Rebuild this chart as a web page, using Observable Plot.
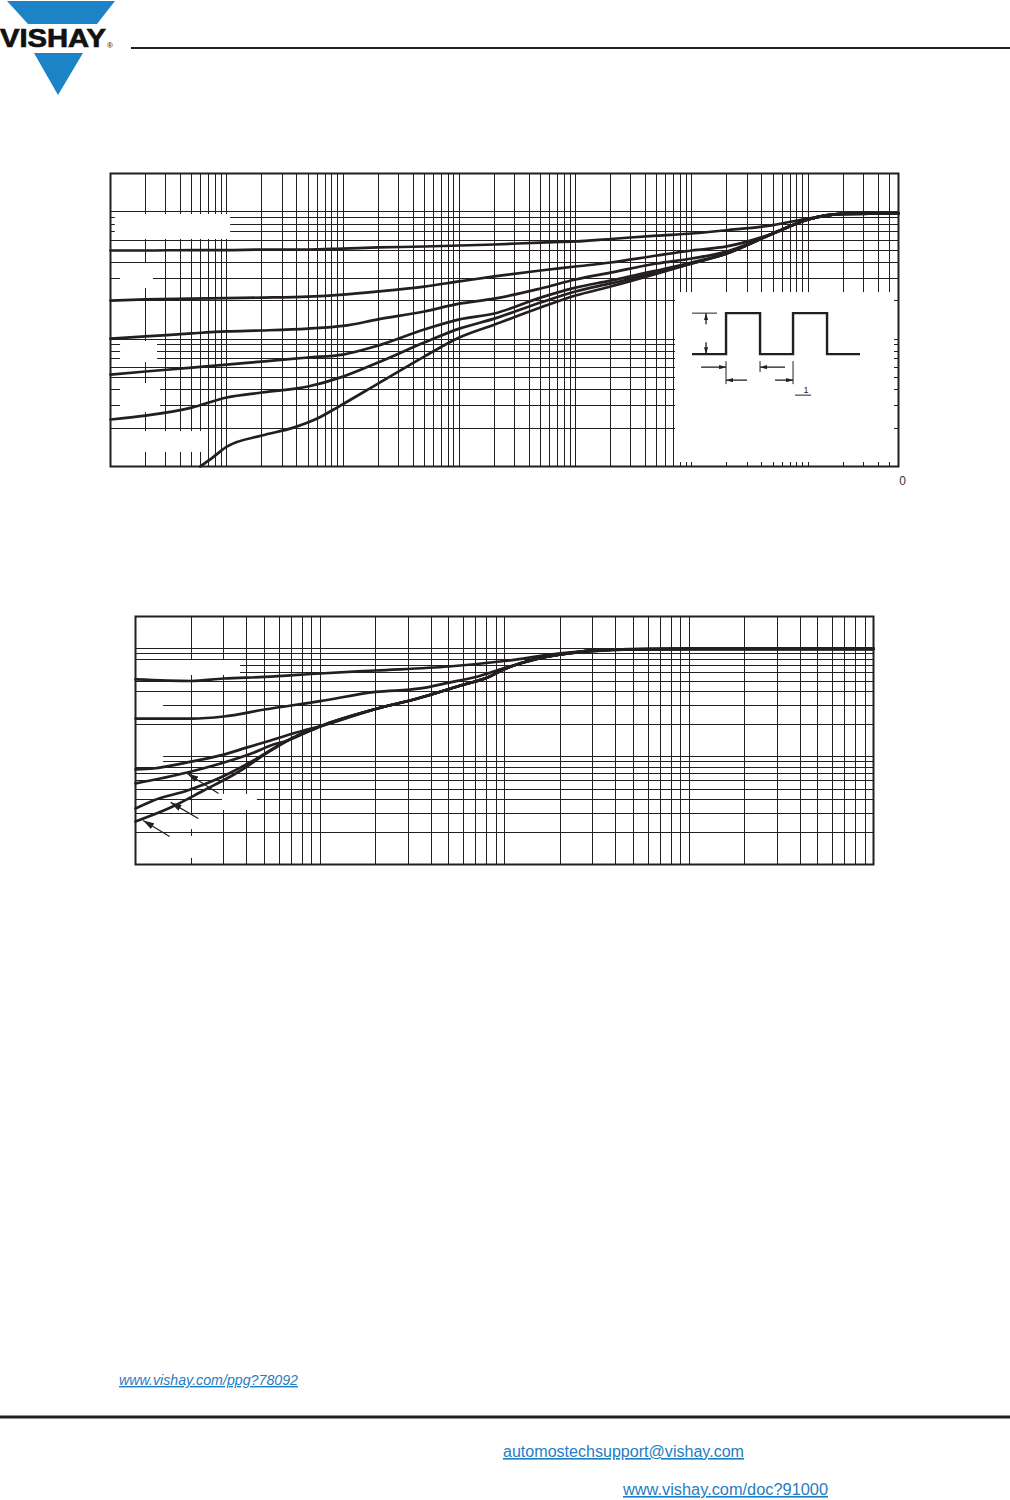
<!DOCTYPE html>
<html><head><meta charset="utf-8">
<script src="https://cdn.jsdelivr.net/npm/d3@7"></script>
<script src="https://cdn.jsdelivr.net/npm/@observablehq/plot@0.6"></script>
<style>
body{margin:0;background:#fff;}
#page{position:relative;width:1010px;height:1500px;overflow:hidden;background:#fff;font-family:"Liberation Sans",Arial,sans-serif;}
#page > svg{position:absolute;}
</style></head><body><div id="page"></div>
<script>
// ---------- Chart 1: transient thermal impedance, junction-to-ambient ----------
const t1 = [1e-4, 2e-4, 5e-4, 1e-3, 2e-3, 5e-3, 1e-2, 2e-2, 5e-2, 0.1, 0.2, 0.5, 1, 2, 5, 10, 20, 50, 100, 200, 600];
const z1_d05  = [0.497, 0.497, 0.501, 0.501, 0.506, 0.506, 0.515, 0.525, 0.534, 0.544, 0.554, 0.574, 0.585, 0.612, 0.650, 0.676, 0.717, 0.787, 0.887, 0.962, 0.970];
const z1_d02  = [0.201, 0.205, 0.208, 0.210, 0.212, 0.216, 0.224, 0.237, 0.259, 0.284, 0.311, 0.346, 0.372, 0.400, 0.454, 0.497, 0.535, 0.676, 0.871, 0.962, 0.970];
const z1_d01  = [0.101, 0.105, 0.111, 0.115, 0.117, 0.121, 0.127, 0.143, 0.165, 0.190, 0.208, 0.250, 0.294, 0.333, 0.393, 0.430, 0.488, 0.676, 0.871, 0.962, 0.970];
const z1_d005 = [0.0527, 0.0557, 0.0598, 0.0632, 0.0667, 0.0718, 0.0757, 0.089, 0.119, 0.143, 0.159, 0.212, 0.254, 0.288, 0.346, 0.400, 0.471, 0.676, 0.871, 0.962, 0.970];
const z1_d002 = [0.0234, 0.0251, 0.0290, 0.0348, 0.0381, 0.0425, 0.0508, 0.0655, 0.094, 0.121, 0.145, 0.194, 0.237, 0.274, 0.333, 0.393, 0.471, 0.676, 0.871, 0.962, 0.970];
const t1_sp = [5.9e-4, 7.5e-4, 1e-3, 2e-3, 3.75e-3, 6e-3, 9.5e-3, 2e-2, 5e-2, 0.1, 0.2, 0.5, 1, 2, 5, 10, 20, 50, 100, 200, 600];
const z1_sp = [0.0100, 0.0117, 0.0143, 0.0175, 0.0202, 0.0238, 0.0301, 0.0448, 0.0730, 0.103, 0.130, 0.177, 0.220, 0.259, 0.327, 0.393, 0.471, 0.676, 0.871, 0.962, 0.970];
const x1Domain = [1e-4, 600];
const yDomain = [0.01, 2];
const decades1 = [1e-4, 1e-3, 1e-2, 1e-1, 1, 10, 100];
const multipliers = [1, 2, 3, 4, 5, 6, 7, 8, 9];
const decadesY = [0.01, 0.1, 1];
const axisLabels1 = ["0"];
// label masks (where the curve labels sit), in data units: [t0, t1, z0, z1]
const labelBoxes1 = [
  [1.10e-4, 1.08e-3, 0.607, 0.953],
  [1.22e-4, 2.34e-4, 0.250, 0.393],
  [1.22e-4, 2.54e-4, 0.0655, 0.0958],
  [1.22e-4, 2.69e-4, 0.0265, 0.0448],
  [1.04e-4, 6.56e-4, 0.0129, 0.0188]
];
const insetT = [7.25, 600];
const insetZ = [0.01, 0.232];

// ---------- Chart 2: transient thermal impedance, junction-to-case ----------
const x2Domain = [1e-4, 1];
const decades2 = [1e-4, 1e-3, 1e-2, 1e-1];
const t2_d05 = [1e-4, 2e-4, 3e-4, 5e-4, 1e-3, 2e-3, 5e-3, 1e-2, 2e-2, 5e-2, 0.1, 1];
const z2_d05 = [0.521, 0.504, 0.532, 0.550, 0.592, 0.631, 0.687, 0.773, 0.908, 0.989, 1.0, 1.0];
const t2_d02 = [1e-4, 2e-4, 3e-4, 5e-4, 1e-3, 2e-3, 3.5e-3, 5e-3, 7e-3, 1e-2, 2e-2, 5e-2, 0.1, 1];
const z2_d02 = [0.226, 0.226, 0.236, 0.274, 0.328, 0.399, 0.430, 0.487, 0.549, 0.665, 0.888, 0.989, 1.0, 1.0];
const t2_tail = [1e-3, 2.05e-3, 3.38e-3, 5.78e-3, 8.09e-3, 9.9e-3, 0.0144, 0.0201, 0.0293, 0.0425, 0.1, 1];
const z2_tail = [0.191, 0.280, 0.347, 0.458, 0.543, 0.645, 0.798, 0.888, 0.966, 0.989, 1.0, 1.0];
const t2_d01 = [1e-4, 1.25e-4, 1.91e-4, 2.89e-4, 4.04e-4, 5.40e-4, 8.14e-4];
const z2_d01 = [0.0762, 0.0778, 0.0885, 0.1028, 0.122, 0.1416, 0.175];
const t2_d005 = [1e-4, 1.91e-4, 2.89e-4, 4.36e-4, 5.40e-4, 6.67e-4, 8.14e-4];
const z2_d005 = [0.0565, 0.0714, 0.0865, 0.109, 0.127, 0.1416, 0.164];
const t2_d002 = [1e-4, 1.25e-4, 1.91e-4, 2.89e-4, 4.36e-4, 6.67e-4, 8.14e-4];
const z2_d002 = [0.0331, 0.0393, 0.0486, 0.0641, 0.0923, 0.1416, 0.164];
const t2_sp = [1e-4, 1.55e-4, 2.34e-4, 3.57e-4, 5.40e-4, 8.14e-4];
const z2_sp = [0.0251, 0.0338, 0.0486, 0.0714, 0.114, 0.168];
// pointer arrows (tail -> head)
const arrowTailT = [2.82e-4, 2.19e-4, 1.53e-4];
const arrowTailZ = [0.0456, 0.0267, 0.0182];
const arrowHeadT = [1.91e-4, 1.55e-4, 1.10e-4];
const arrowHeadZ = [0.070, 0.0377, 0.0256];
const labelBoxes2 = [
  [1.01e-4, 3.71e-4, 0.567, 0.781],
  [1.01e-4, 1.42e-4, 0.257, 0.355],
  [1.01e-4, 1.42e-4, 0.0847, 0.109],
  [2.96e-4, 4.58e-4, 0.0317, 0.0447],
  [1.82e-4, 2.82e-4, 0.0211, 0.0285],
  [1.59e-4, 2.82e-4, 0.0114, 0.0182]
];

// ---------- page text ----------
const brandName = "VISHAY";
const footerLinks = ["www.vishay.com/ppg?78092", "automostechsupport@vishay.com", "www.vishay.com/doc?91000"];
const insetText = ["1"];

const ink = "#231f20";
const blue = "#1c84c6";
const linkBlue = "#1f7dc2";

function grid(decs, max) {
  return decs.flatMap(d => multipliers.map(m => +(d * m).toPrecision(3))).filter(v => v <= max);
}
function rows(name, ts, zs) { return ts.map((t, i) => ({s: name, t, z: zs[i]})); }
function boxRows(b) { return b.map(([a, c, d, e]) => ({t0: a, t1: c, z0: d, z1: e})); }

const page = d3.select("#page");

// decorations: logo, rules, footer
const deco = page.append("svg").attr("width", 1010).attr("height", 1500).style("left", "0px").style("top", "0px");
deco.append("polygon").attr("points", "7,1 115,1 97,24 28,24").attr("fill", blue);
deco.append("polygon").attr("points", "34,53 83,53 58,95").attr("fill", blue);
deco.append("text").attr("x", 0).attr("y", 47).attr("font-family", "Liberation Sans, Arial, sans-serif")
  .attr("font-weight", 700).attr("font-size", 26).attr("textLength", 106).attr("lengthAdjust", "spacingAndGlyphs")
  .attr("fill", "#111").attr("stroke", "#111").attr("stroke-width", 0.7).text(brandName);
deco.append("text").attr("x", 107).attr("y", 48).attr("font-size", 8).attr("font-family", "Liberation Sans, Arial").attr("fill", "#111").text("®");
deco.append("line").attr("x1", 131).attr("x2", 1010).attr("y1", 48).attr("y2", 48).attr("stroke", ink).attr("stroke-width", 2);
deco.append("line").attr("x1", 0).attr("x2", 1010).attr("y1", 1417).attr("y2", 1417).attr("stroke", ink).attr("stroke-width", 3);
const footPos = [[119, 1385, 14, 179, "italic"], [503, 1457, 16, 241, "normal"], [623, 1495, 16, 205, "normal"]];
footerLinks.forEach((s, i) => {
  const [x, y, fs, w, st] = footPos[i];
  deco.append("text").attr("x", x).attr("y", y).attr("font-size", fs).attr("font-style", st)
    .attr("font-family", "Liberation Sans, Arial, sans-serif").attr("fill", linkBlue)
    .attr("textLength", w).attr("lengthAdjust", "spacingAndGlyphs")
    .style("text-decoration", "underline").text(s);
});

function addMarker(svg, id, w, h) {
  let defs = svg.select("defs");
  if (defs.empty()) defs = svg.insert("defs", ":first-child");
  defs.append("marker").attr("id", id).attr("viewBox", "0 0 10 6").attr("refX", 10).attr("refY", 3)
    .attr("markerWidth", w).attr("markerHeight", h).attr("markerUnits", "userSpaceOnUse").attr("orient", "auto")
    .append("path").attr("d", "M0,0L10,3L0,6Z").attr("fill", ink);
}

// ---------- chart 1 ----------
const xGrid1 = grid(decades1, 600);
const yGrid1 = grid(decadesY, 2);
const data1 = [
  ...rows("0.5", t1, z1_d05), ...rows("0.2", t1, z1_d02), ...rows("0.1", t1, z1_d01),
  ...rows("0.05", t1, z1_d005), ...rows("0.02", t1, z1_d002), ...rows("single", t1_sp, z1_sp)
];
const tickLenY = 1.08, tickLenX = 1.083;
const chart1 = Plot.plot({
  width: 830, height: 335,
  marginLeft: 20, marginRight: 22, marginTop: 13, marginBottom: 29,
  x: {type: "log", domain: x1Domain, axis: null},
  y: {type: "log", domain: yDomain, axis: null},
  style: {fontFamily: "Liberation Sans, Arial, sans-serif", background: "transparent"},
  marks: [
    Plot.ruleX(xGrid1, {stroke: ink, strokeWidth: 1, shapeRendering: "crispEdges"}),
    Plot.ruleY(yGrid1, {stroke: ink, strokeWidth: 1, shapeRendering: "crispEdges"}),
    Plot.rect(boxRows(labelBoxes1), {x1: "t0", x2: "t1", y1: "z0", y2: "z1", fill: "white"}),
    Plot.rect([0], {x1: insetT[0], x2: insetT[1], y1: insetZ[0], y2: insetZ[1], fill: "white"}),
    Plot.ruleX(xGrid1.filter(v => v > insetT[0] && v < insetT[1]), {y1: insetZ[0], y2: insetZ[0] * tickLenY, stroke: ink, strokeWidth: 1, shapeRendering: "crispEdges"}),
    Plot.ruleY(yGrid1.filter(v => v > insetZ[0] && v < insetZ[1]), {x1: insetT[1] / tickLenX, x2: insetT[1], stroke: ink, strokeWidth: 1, shapeRendering: "crispEdges"}),
    Plot.line(data1, {x: "t", y: "z", z: "s", stroke: ink, strokeWidth: 2.7, curve: "monotone-x"}),
    Plot.frame({stroke: ink, strokeWidth: 2}),
    Plot.text(axisLabels1, {x: x1Domain[1], y: yDomain[0], text: d => d, dx: 4, dy: 15, fontSize: 12, fill: "#333"})
  ]
});
chart1.style.left = "90px"; chart1.style.top = "160px"; chart1.style.position = "absolute";
document.getElementById("page").appendChild(chart1);

// inset pulse diagram (schematic, positioned from the inset corner)
{
  const svg = d3.select(chart1);
  addMarker(svg, "ahs", 7, 4.5);
  const ox = chart1.scale("x").apply(insetT[0]);
  const oy = chart1.scale("y").apply(insetZ[1]);
  const g = svg.append("g").attr("transform", `translate(${ox},${oy})`);
  const waveX = [17, 51, 51, 85, 85, 118, 118, 152, 152, 185];
  const waveY = [62, 62, 21, 21, 62, 62, 21, 21, 62, 62];
  g.append("path").attr("d", d3.line()(waveX.map((x, i) => [x, waveY[i]]))).attr("fill", "none")
    .attr("stroke", ink).attr("stroke-width", 2.4).attr("stroke-linejoin", "miter");
  const plain = [[[17, 21], [42, 21]], [[51, 69], [51, 92]], [[85, 69], [85, 80]], [[118, 69], [118, 92]], [[120, 103], [136, 103]]];
  plain.forEach(([a, b]) => g.append("line").attr("x1", a[0]).attr("y1", a[1]).attr("x2", b[0]).attr("y2", b[1]).attr("stroke", ink).attr("stroke-width", 1));
  const arrows = [[[31, 32], [31, 21]], [[31, 50], [31, 62]], [[26, 75], [51, 75]], [[110, 75], [85, 75]], [[72, 88], [51, 88]], [[100, 88], [118, 88]]];
  arrows.forEach(([a, b]) => g.append("line").attr("x1", a[0]).attr("y1", a[1]).attr("x2", b[0]).attr("y2", b[1])
    .attr("stroke", ink).attr("stroke-width", 1.3).attr("marker-end", "url(#ahs)"));
  g.append("text").attr("x", 131).attr("y", 101).attr("text-anchor", "middle").attr("font-size", 9)
    .attr("font-family", "Liberation Sans, Arial, sans-serif").attr("fill", ink).text(insetText[0]);
}

// ---------- chart 2 ----------
const xGrid2 = grid(decades2, 1);
const yGrid2 = grid(decadesY, 2);
const data2 = [
  ...rows("0.5", t2_d05, z2_d05), ...rows("0.2", t2_d02, z2_d02),
  ...rows("0.1", t2_d01.concat(t2_tail), z2_d01.concat(z2_tail)),
  ...rows("0.05", t2_d005.concat(t2_tail), z2_d005.concat(z2_tail)),
  ...rows("0.02", t2_d002.concat(t2_tail), z2_d002.concat(z2_tail)),
  ...rows("single", t2_sp.concat(t2_tail), z2_sp.concat(z2_tail))
];
const arrows2 = arrowTailT.map((t, i) => ({x1: t, y1: arrowTailZ[i], x2: arrowHeadT[i], y2: arrowHeadZ[i]}));
const chart2 = Plot.plot({
  width: 780, height: 290,
  marginLeft: 20, marginRight: 22, marginTop: 16, marginBottom: 26,
  x: {type: "log", domain: x2Domain, axis: null},
  y: {type: "log", domain: yDomain, axis: null},
  style: {fontFamily: "Liberation Sans, Arial, sans-serif", background: "transparent"},
  marks: [
    Plot.ruleX(xGrid2, {stroke: ink, strokeWidth: 1, shapeRendering: "crispEdges"}),
    Plot.ruleY(yGrid2, {stroke: ink, strokeWidth: 1, shapeRendering: "crispEdges"}),
    Plot.rect(boxRows(labelBoxes2), {x1: "t0", x2: "t1", y1: "z0", y2: "z1", fill: "white"}),
    Plot.line(data2, {x: "t", y: "z", z: "s", stroke: ink, strokeWidth: 2.7, curve: "monotone-x"}),
    Plot.link(arrows2, {x1: "x1", y1: "y1", x2: "x2", y2: "y2", stroke: ink, strokeWidth: 1.2}),
    Plot.frame({stroke: ink, strokeWidth: 2})
  ]
});
chart2.style.left = "115px"; chart2.style.top = "600px"; chart2.style.position = "absolute";
document.getElementById("page").appendChild(chart2);
{
  const svg = d3.select(chart2);
  addMarker(svg, "ahb", 11, 7);
  svg.selectAll('g[aria-label="link"] path').attr("marker-end", "url(#ahb)");
}
</script></body></html>
